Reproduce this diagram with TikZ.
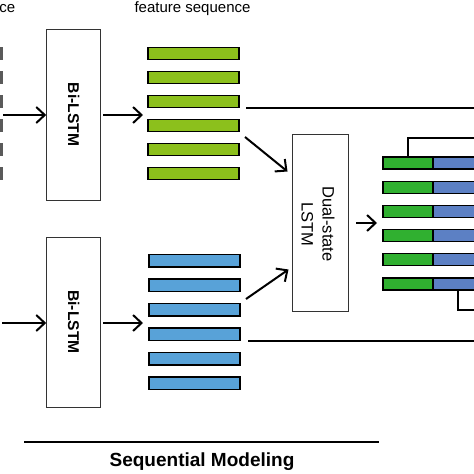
\documentclass[tikz,border=0pt]{standalone}
\usepackage{fontspec}
\setmainfont{Liberation Sans}
\usetikzlibrary{arrows.meta,calc}
\definecolor{ygreen}{RGB}{140,192,28}
\definecolor{lblue}{RGB}{88,162,216}
\definecolor{cgreen}{RGB}{48,176,48}
\definecolor{cblue}{RGB}{92,128,196}
\definecolor{dgray}{RGB}{90,90,90}
\begin{document}
\begin{tikzpicture}[x=1pt,y=-1pt,
  lstmbox/.style={draw=black!80, line width=1pt, fill=white, inner sep=0pt},
  bar/.style={draw=black, line width=1.3pt, inner sep=0pt, minimum height=12.5pt},
  conn/.style={line width=2pt, draw=black},
  arr/.style={conn, -{Straight Barb[length=8.5pt,width=16pt]}},
  lbl/.style={font=\bfseries\fontsize{15.6}{18}\selectfont, inner sep=0pt},
]
\clip (0,0) rectangle (474,474);
% partial text top
\node[anchor=base east, font=\fontsize{15}{18}\selectfont, inner sep=0pt] (ce) at (15.5,12) {ce};
\node[anchor=base, font=\fontsize{15}{18}\selectfont, inner sep=0pt] (fs) at (192.5,12) {feature sequence};
% gray previous bars
\foreach \i in {1,...,6}{
  \node[fill=dgray, inner sep=0pt, minimum width=12pt, minimum height=12.5pt] (p\i) at (-3,{53.5+24*(\i-1)}) {};
}
% Bi-LSTM boxes
\node[lstmbox, minimum width=54pt, minimum height=171pt] (bt) at (73.7,114.5) {};
\node[lbl, rotate=-90] (btl) at (bt.center) {Bi-LSTM};
\node[lstmbox, minimum width=54pt, minimum height=170pt] (bb) at (73.7,322) {};
\node[lbl, rotate=-90] (bbl) at (bb.center) {Bi-LSTM};
% feature bars
\foreach \i in {1,...,6}{
  \node[bar, fill=ygreen, minimum width=91pt] (g\i) at (193.5,{53.5+24*(\i-1)}) {};
  \node[bar, fill=lblue, minimum width=91pt] (b\i) at (194.5,{260.8+24.5*(\i-1)}) {};
}
% Dual-state box
\node[lstmbox, minimum width=56pt, minimum height=177pt] (ds) at (320,222.5) {};
\node[rotate=-90, align=center, font=\fontsize{16.5}{21}\selectfont, inner sep=0pt] (dsl) at (318,224) {Dual-state\\LSTM};
% combined bars
\foreach \i in {1,...,6}{
  \node[bar, fill=cblue, minimum width=62pt, minimum height=12pt] (cb\i) at (464,{163+24.2*(\i-1)}) {};
  \node[bar, fill=cgreen, minimum width=50pt, minimum height=12pt] (cg\i) at (408,{163+24.2*(\i-1)}) {};
}
% free-end coordinates
\coordinate (inT) at (3,115);
\coordinate (inB) at (2,323);
\coordinate (lnT) at (246,108);
\coordinate (lnTR) at (480,108);
\coordinate (lnB) at (248,341);
\coordinate (lnBR) at (480,341);
\coordinate (bkT) at (408,138);
\coordinate (bkTR) at (480,138);
\coordinate (bkB) at (458,310);
\coordinate (bkBR) at (480,310);
\coordinate (gA) at (245,137);
\coordinate (bA) at (246,299);
\coordinate (dA) at (356,223);
\coordinate (dB) at (377,223);
\coordinate (sl) at (24,442);
\coordinate (sr) at (379,442);
% arrows
\draw[arr] (inT) -- (bt.west |- inT);
\draw[arr] (bt.east |- inT) ++(2,0) -- (143,115);
\draw[arr] (inB) -- (bb.west |- inB);
\draw[arr] (bb.east |- inB) ++(2,0) -- (143,323);
\draw[arr] (gA) -- ($(ds.north west)+(-4,38)$);
\draw[arr] (bA) -- ($(ds.south west)+(-3,-42)$);
\draw[arr] (dA) -- (dB);
% lines
\draw[conn] (lnT) -- (lnTR);
\draw[conn] (lnB) -- (lnBR);
\draw[conn] (cg1.north) -- (bkT) -- (bkTR);
\draw[conn] (cb6.south -| bkB) -- (bkB) -- (bkBR);
% bottom caption
\draw[line width=2.4pt] (sl) -- (sr);
\node[font=\bfseries\fontsize{19}{22}\selectfont, inner sep=0pt, anchor=base] (cap) at (202,466) {Sequential Modeling};
\end{tikzpicture}
\end{document}
